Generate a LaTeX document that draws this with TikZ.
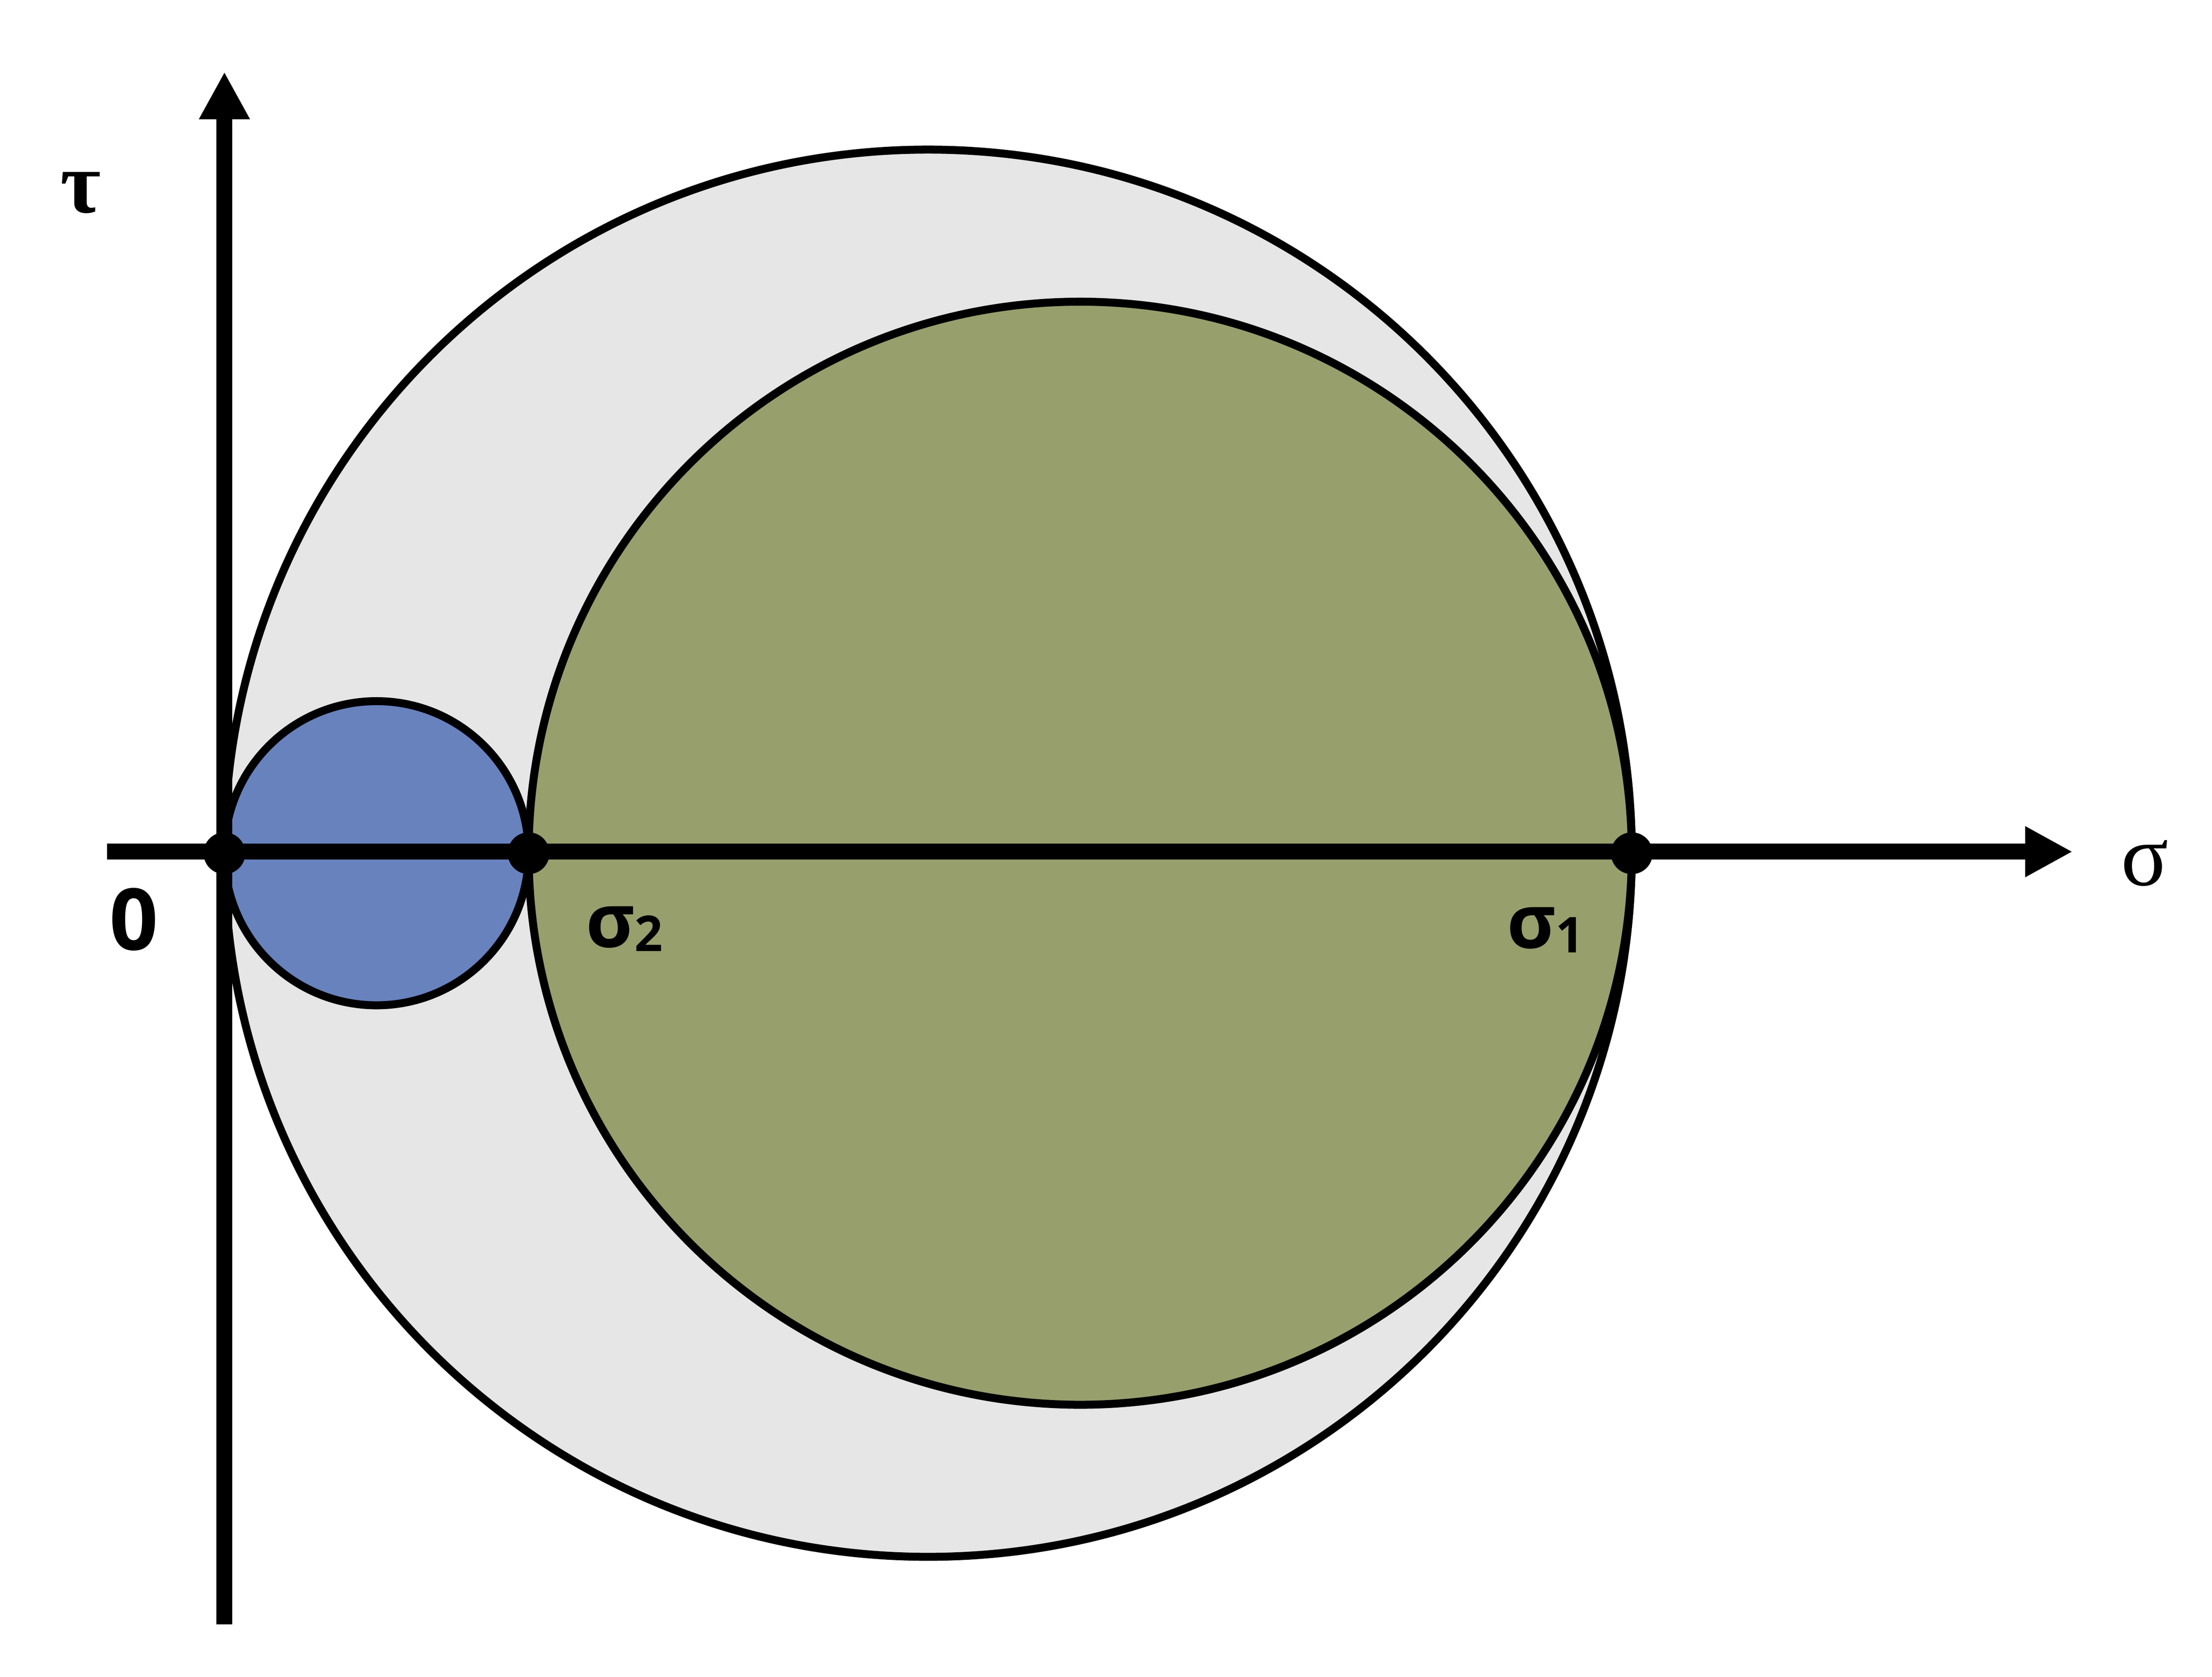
\documentclass[tikz,border=0pt]{standalone}
\usepackage{fontspec}
\setmainfont{Open Sans}
\newfontfamily\axisfont{Liberation Serif}
\usetikzlibrary{arrows.meta}
\definecolor{mohrgray}{HTML}{E6E6E6}
\definecolor{mohrgreen}{HTML}{979F6D}
\definecolor{mohrblue}{HTML}{6882BE}

\begin{document}
\begin{tikzpicture}

\tikzset{mohr/.style = {shape=circle, draw, line width=0.21cm, inner sep=0pt}}
\tikzset{dot/.style = {shape=circle, fill=black, minimum size=1.1cm, inner sep=0pt}}
\tikzset{axis/.style = {line width=0.42cm, -{Triangle[length=1.25cm,width=1.25cm]}}}
\tikzset{lbl/.style = {inner sep=0pt, font=\bfseries\fontsize{56}{56}\selectfont}}
\useasboundingbox (0,0) rectangle (58.25,-44.16);
%circles
\node[mohr, fill=mohrgray, minimum size=37.06cm] (big) at (24.44,-22.47) {};
\node[mohr, fill=mohrgreen, minimum size=29.05cm] (green) at (28.445,-22.47) {};
\node[mohr, fill=mohrblue, minimum size=8.01cm] (blue) at (9.915,-22.47) {};
%axes
\coordinate (xs) at (2.82,-22.43);
\coordinate (xe) at (54.58,-22.43);
\coordinate (ys) at (5.91,-42.78);
\coordinate (ye) at (5.91,-1.89);
\draw[axis] (xs) -- (xe);
\draw[axis] (ys) -- (ye);
%points
\node[dot] (0) at (5.91,-22.47) {};
\node[dot] (2) at (13.92,-22.47) {};
\node[dot] (1) at (42.97,-22.47) {};
%labels
\node[inner sep=0pt, font=\axisfont\bfseries\fontsize{66}{66}\selectfont] (tau) at (2.12,-5.075) {τ};
\node[inner sep=0pt, font=\axisfont\fontsize{66}{66}\selectfont] (sigma) at (56.48,-22.74) {σ};
\node[lbl, font=\bfseries\fontsize{64}{64}\selectfont] (zero) at (3.525,-24.215) {0};
\node[lbl] (s2) at (16.44,-24.46) {σ\raisebox{-0.11cm}{\fontsize{37}{37}\selectfont 2}};
\node[lbl] (s1) at (40.70,-24.49) {σ\raisebox{-0.11cm}{\fontsize{37}{37}\selectfont 1}};

\end{tikzpicture}
\end{document}
